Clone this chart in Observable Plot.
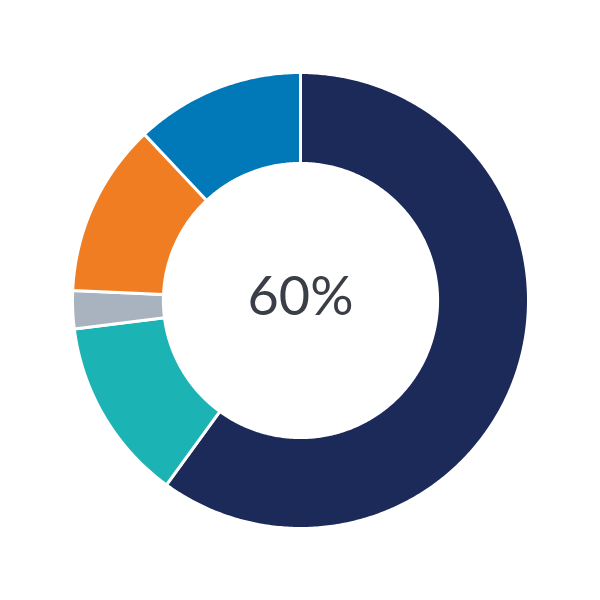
<!DOCTYPE html>
<html>
<head>
<meta charset="utf-8">
<script src="https://cdn.jsdelivr.net/npm/d3@7"></script>
<script src="https://cdn.jsdelivr.net/npm/@observablehq/plot@0.6"></script>
<style>
  html, body { margin: 0; padding: 0; background: #fff; }
</style>
</head>
<body>
<div id="chart"></div>
<script>
const categories = ["A", "B", "C", "D", "E"];
const values = [60, 13, 2.7, 12.3, 12];
const colors = ["#1c2a5a", "#1cb3b4", "#a9b3c0", "#f07d22", "#0178b7"];
const centerLabel = "60%";

const outerR = 0.76, innerR = 0.457;
const pie = d3.pie().sort(null).value(d => d.value)(categories.map((c, i) => ({category: c, value: values[i]})));
const pts = [];
for (const s of pie) {
  const n = Math.max(8, Math.ceil((s.endAngle - s.startAngle) / 0.01));
  for (let k = 0; k <= n; k++) {
    const a = s.startAngle + (s.endAngle - s.startAngle) * k / n;
    pts.push({category: s.data.category, x: outerR * Math.sin(a), y: outerR * Math.cos(a)});
  }
  for (let k = n; k >= 0; k--) {
    const a = s.startAngle + (s.endAngle - s.startAngle) * k / n;
    pts.push({category: s.data.category, x: innerR * Math.sin(a), y: innerR * Math.cos(a)});
  }
}

const chart = Plot.plot({
  width: 600,
  height: 600,
  margin: 0,
  x: {domain: [-1, 1], axis: null},
  y: {domain: [-1, 1], axis: null},
  color: {domain: categories, range: colors},
  marks: [
    Plot.line(pts, {x: "x", y: "y", z: "category", fill: "category", stroke: "white", strokeWidth: 3, curve: "linear-closed"}),
    Plot.text([centerLabel], {x: () => 0, y: () => 0, text: d => d, fontSize: 54, fontFamily: "Lato", fontWeight: 400, fill: "#3a3f47", dy: -3})
  ]
});
document.getElementById("chart").appendChild(chart);
</script>
</body>
</html>
